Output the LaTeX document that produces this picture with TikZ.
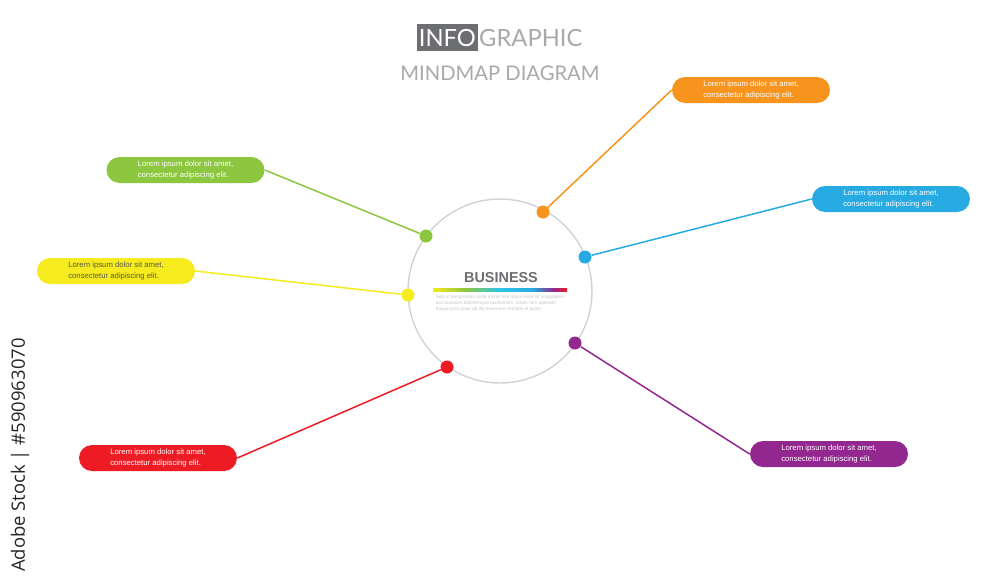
\documentclass[tikz,border=0pt]{standalone}
\usepackage{fontspec}
\setmainfont{Liberation Sans}
\newfontfamily\titlefont{Lato}
\newfontfamily\wmfont{Open Sans}
\definecolor{cgreen}{HTML}{8DC63F}
\definecolor{cyellow}{HTML}{F5EB1E}
\definecolor{cred}{HTML}{ED1C24}
\definecolor{corange}{HTML}{F7941D}
\definecolor{cblue}{HTML}{27AAE1}
\definecolor{cpurple}{HTML}{92278F}
\definecolor{cblue2}{HTML}{2EC4E8}
\definecolor{tgrey}{HTML}{6D6E71}
\definecolor{lgrey}{HTML}{A7A9AC}
\definecolor{ygrey}{HTML}{5A5A4A}
\pgfdeclarehorizontalshading{rainbow}{100bp}{color(0bp)=(cyellow); color(25bp)=(cyellow); color(37bp)=(cgreen); color(50bp)=(cblue2); color(62bp)=(cblue); color(70bp)=(cpurple); color(75bp)=(cred); color(100bp)=(cred)}
\tikzset{
  lbl/.style={rounded corners=0.26cm, minimum width=3.16cm, minimum height=0.52cm, inner sep=0pt, align=left, text=white, font=\fontsize{4.4}{6.2}\selectfont},
  dotnode/.style={circle, inner sep=0pt, minimum size=0.26cm},
  conn/.style={line width=0.85pt},
}
\begin{document}
\begin{tikzpicture}[x=0.02cm,y=-0.02cm]
\fill[white] (0,0) rectangle (1000,583);
\useasboundingbox (0,0) rectangle (1000,583);
% title
\node[fill=tgrey, text=white, inner xsep=1pt, inner ysep=2.5pt, anchor=base east, font=\titlefont\fontsize{13.5}{14}\selectfont] (info) at (478,46) {INFO};
\node[text=lgrey, inner xsep=0.5pt, anchor=base west, font=\titlefont\fontsize{13.5}{14}\selectfont] (graphic) at (info.base east) {GRAPHIC};
\node[text=lgrey, anchor=base, font=\titlefont\fontsize{11.5}{12}\selectfont] (sub) at (500,80.5) {MINDMAP DIAGRAM};
% hub
\node[circle, draw=gray!35, line width=0.8pt, minimum size=3.68cm, inner sep=0pt] (hub) at (500,291) {};
\node[text=tgrey, font=\bfseries\fontsize{8.2}{9}\selectfont, anchor=base] (biz) at (501,282) {BUSINESS};
\shade[shading=rainbow] (433,288.8) rectangle (567,291.6);
\node[text=gray!45, font=\fontsize{2.7}{3.3}\selectfont, align=left, anchor=north, inner sep=0pt] (desc) at (500,295) {Sed ut perspiciatis unde omnis iste natus error sit voluptatem\\accusantium doloremque laudantium, totam rem aperiam,\\eaque ipsa quae ab illo inventore veritatis et quasi};
% boxes
\node[lbl, fill=cgreen] (gbox) at (185.5,170) {Lorem ipsum dolor sit amet,\\consectetur adipiscing elit.};
\node[lbl, fill=cyellow, text=ygrey] (ybox) at (116,271) {Lorem ipsum dolor sit amet,\\consectetur adipiscing elit.};
\node[lbl, fill=cred] (rbox) at (158,458) {Lorem ipsum dolor sit amet,\\consectetur adipiscing elit.};
\node[lbl, fill=corange] (obox) at (751,90) {Lorem ipsum dolor sit amet,\\consectetur adipiscing elit.};
\node[lbl, fill=cblue] (bbox) at (891,199) {Lorem ipsum dolor sit amet,\\consectetur adipiscing elit.};
\node[lbl, fill=cpurple] (pbox) at (829,454) {Lorem ipsum dolor sit amet,\\consectetur adipiscing elit.};
% dots
\node[dotnode, fill=cgreen] (gdot) at (426,236) {};
\node[dotnode, fill=cyellow] (ydot) at (408,295) {};
\node[dotnode, fill=cred] (rdot) at (447,367) {};
\node[dotnode, fill=corange] (odot) at (543,212) {};
\node[dotnode, fill=cblue] (bdot) at (585,257) {};
\node[dotnode, fill=cpurple] (pdot) at (575,343) {};
% connectors
\draw[conn, cgreen] (gbox.east) -- (gdot);
\draw[conn, cyellow] (ybox.east) -- (ydot);
\draw[conn, cred] (rbox.east) -- (rdot);
\draw[conn, corange] (obox.west) -- (odot);
\draw[conn, cblue] (bbox.west) -- (bdot);
\draw[conn, cpurple] (pbox.west) -- (pdot);
% side label
\node[rotate=90, text=black!85, font=\wmfont\fontsize{10.5}{12}\selectfont, anchor=center] (stock) at (20,455) {Adobe Stock | \#590963070};
\end{tikzpicture}
\end{document}
